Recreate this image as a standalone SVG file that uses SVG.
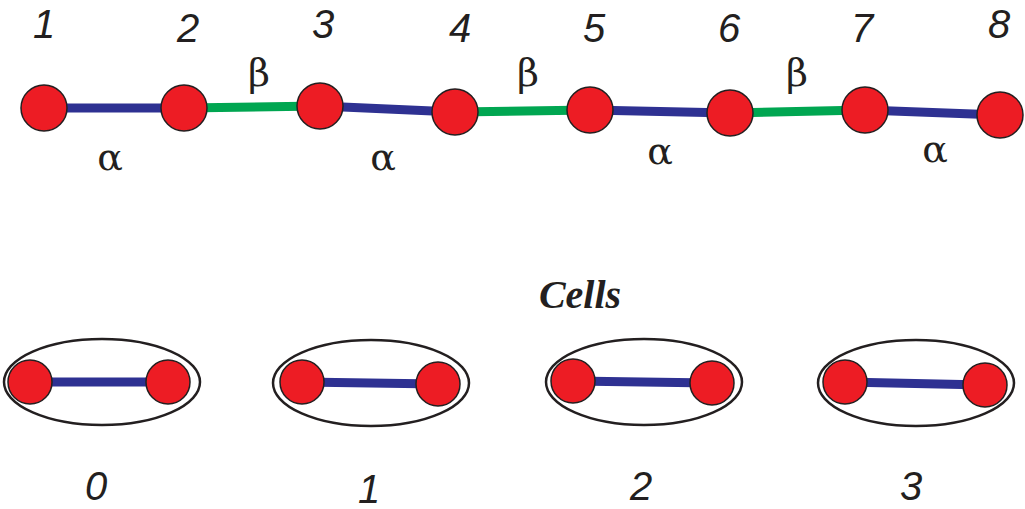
<svg xmlns="http://www.w3.org/2000/svg" width="1025" height="509" viewBox="0 0 1025 509">
<style>
.n{fill:#ed1c24;stroke:#231f20;stroke-width:1.5}
.a{stroke:#2e3192;stroke-width:9}
.b{stroke:#00a651;stroke-width:9}
.e{fill:none;stroke:#231f20;stroke-width:2.5}
.num{font-family:"Liberation Sans",sans-serif;font-style:italic;font-size:40px;fill:#231f20;text-anchor:middle}
.g{font-family:"DejaVu Serif",serif;font-size:38px;fill:#231f20;text-anchor:middle}
</style>
<rect width="1025" height="509" fill="#fff"/>
<g id="connectors">
<line class="a" x1="44" y1="108" x2="184" y2="108"/>
<line class="b" x1="184" y1="108" x2="320" y2="106"/>
<line class="a" x1="320" y1="106" x2="455" y2="112"/>
<line class="b" x1="455" y1="112" x2="590" y2="110"/>
<line class="a" x1="590" y1="110" x2="730" y2="113"/>
<line class="b" x1="730" y1="113" x2="865" y2="110"/>
<line class="a" x1="865" y1="110" x2="1000" y2="115"/>
<line class="a" x1="30" y1="382" x2="168" y2="382"/>
<line class="a" x1="302" y1="382" x2="438" y2="384"/>
<line class="a" x1="573" y1="381" x2="712" y2="383"/>
<line class="a" x1="845" y1="382" x2="985" y2="385"/>
</g>
<g id="chain">
<circle class="n" cx="44" cy="108" r="23"/>
<circle class="n" cx="184" cy="108" r="23"/>
<circle class="n" cx="320" cy="106" r="23"/>
<circle class="n" cx="455" cy="112" r="23"/>
<circle class="n" cx="590" cy="110" r="23"/>
<circle class="n" cx="730" cy="113" r="23"/>
<circle class="n" cx="865" cy="110" r="23"/>
<circle class="n" cx="1000" cy="115" r="23"/>
<text class="num" x="44" y="38">1</text>
<text class="num" x="188" y="42">2</text>
<text class="num" x="323" y="38">3</text>
<text class="num" x="460" y="42">4</text>
<text class="num" x="594" y="42">5</text>
<text class="num" x="729" y="42">6</text>
<text class="num" x="862" y="42">7</text>
<text class="num" x="999" y="38">8</text>
<text class="g" x="259" y="86">β</text>
<text class="g" x="528" y="86">β</text>
<text class="g" x="797" y="86">β</text>
<text class="g" x="110" y="170">α</text>
<text class="g" x="383" y="170">α</text>
<text class="g" x="660" y="164">α</text>
<text class="g" x="935" y="162">α</text>
</g>
<text x="580" y="308" font-family="Liberation Serif,serif" font-weight="bold" font-style="italic" font-size="40" fill="#231f20" text-anchor="middle">Cells</text>
<g id="cell0"><ellipse class="e" cx="102" cy="382" rx="98" ry="43"/><circle class="n" cx="30" cy="382" r="22"/><circle class="n" cx="168" cy="382" r="22"/><text class="num" x="96" y="500">0</text></g>
<g id="cell1"><ellipse class="e" cx="371" cy="383" rx="98" ry="43"/><circle class="n" cx="302" cy="382" r="22"/><circle class="n" cx="438" cy="384" r="22"/><text class="num" x="369" y="503">1</text></g>
<g id="cell2"><ellipse class="e" cx="644" cy="382" rx="98" ry="43"/><circle class="n" cx="573" cy="381" r="22"/><circle class="n" cx="712" cy="383" r="22"/><text class="num" x="641" y="500">2</text></g>
<g id="cell3"><ellipse class="e" cx="916" cy="383" rx="98" ry="43"/><circle class="n" cx="845" cy="382" r="22"/><circle class="n" cx="985" cy="385" r="22"/><text class="num" x="911" y="500">3</text></g>
</svg>
